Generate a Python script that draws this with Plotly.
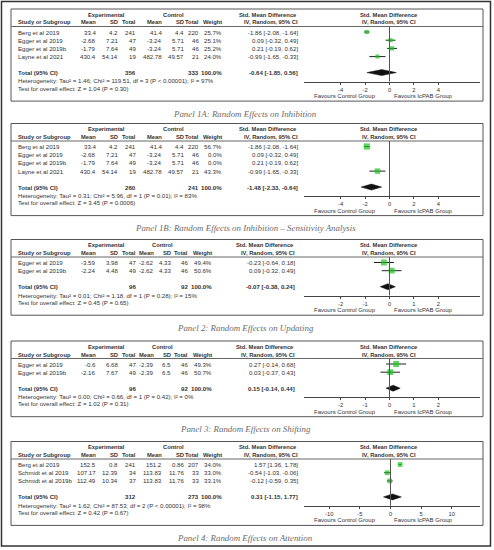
import math
import plotly.graph_objects as go

# ---------------- data ----------------
# Panel 1A: Random effects on inhibition
p1a_study = ["Berg et al 2019", "Egger et al 2019", "Egger et al 2019b", "Layne et al 2021"]
p1a_exp_mean = [33.4, -2.68, -1.79, 430.4]
p1a_exp_sd = [4.2, 7.21, 7.64, 54.14]
p1a_exp_n = [241, 47, 49, 19]
p1a_ctl_mean = [41.4, -3.24, -3.24, 482.78]
p1a_ctl_sd = [4.4, 5.71, 5.71, 49.57]
p1a_ctl_n = [220, 46, 46, 21]
p1a_weight = [25.7, 25.1, 25.2, 24.0]
p1a_smd = [-1.86, 0.09, 0.21, -0.99]
p1a_lo = [-2.08, -0.32, -0.19, -1.65]
p1a_hi = [-1.64, 0.49, 0.62, -0.33]
p1a_total_n = [356, 333]
p1a_total_ci = [-0.64, -1.85, 0.56]
p1a_het = "Heterogeneity: Tau² = 1.46; Chi² = 119.51, df = 3 (P &lt; 0.00001); I² = 97%"
p1a_test = "Test for overall effect: Z = 1.04 (P = 0.30)"
p1a_caption = "Panel 1A: Random Effects on Inhibition"

# Panel 1B: sensitivity analysis
p1b_study = ["Berg et al 2019", "Egger et al 2019", "Egger et al 2019b", "Layne et al 2021"]
p1b_exp_mean = [33.4, -2.68, -1.79, 430.4]
p1b_exp_sd = [4.2, 7.21, 7.64, 54.14]
p1b_exp_n = [241, 47, 49, 19]
p1b_ctl_mean = [41.4, -3.24, -3.24, 482.78]
p1b_ctl_sd = [4.4, 5.71, 5.71, 49.57]
p1b_ctl_n = [220, 46, 46, 21]
p1b_weight = [56.7, 0.0, 0.0, 43.3]
p1b_smd = [-1.86, 0.09, 0.21, -0.99]
p1b_lo = [-2.08, -0.32, -0.19, -1.65]
p1b_hi = [-1.64, 0.49, 0.62, -0.33]
p1b_total_n = [260, 241]
p1b_total_ci = [-1.48, -2.33, -0.64]
p1b_het = "Heterogeneity: Tau² = 0.31; Chi² = 5.96, df = 1 (P = 0.01); I² = 83%"
p1b_test = "Test for overall effect: Z = 3.45 (P = 0.0006)"
p1b_caption = "Panel 1B: Random Effects on Inhibition – Sensitivity Analysis"

# Panel 2: updating
p2_study = ["Egger et al 2019", "Egger et al 2019b"]
p2_exp_mean = [-3.59, -2.24]
p2_exp_sd = [3.98, 4.48]
p2_exp_n = [47, 49]
p2_ctl_mean = [-2.62, -2.62]
p2_ctl_sd = [4.33, 4.33]
p2_ctl_n = [46, 46]
p2_weight = [49.4, 50.6]
p2_smd = [-0.23, 0.09]
p2_lo = [-0.64, -0.32]
p2_hi = [0.18, 0.49]
p2_total_n = [96, 92]
p2_total_ci = [-0.07, -0.38, 0.24]
p2_het = "Heterogeneity: Tau² = 0.01; Chi² = 1.18, df = 1 (P = 0.28); I² = 15%"
p2_test = "Test for overall effect: Z = 0.45 (P = 0.65)"
p2_caption = "Panel 2: Random Effects on Updating"

# Panel 3: shifting
p3_study = ["Egger et al 2019", "Egger et al 2019b"]
p3_exp_mean = [-0.6, -2.16]
p3_exp_sd = [6.68, 7.67]
p3_exp_n = [47, 49]
p3_ctl_mean = [-2.39, -2.39]
p3_ctl_sd = [6.5, 6.5]
p3_ctl_n = [46, 46]
p3_weight = [49.3, 50.7]
p3_smd = [0.27, 0.03]
p3_lo = [-0.14, -0.37]
p3_hi = [0.68, 0.43]
p3_total_n = [96, 92]
p3_total_ci = [0.15, -0.14, 0.44]
p3_het = "Heterogeneity: Tau² = 0.00; Chi² = 0.66, df = 1 (P = 0.42); I² = 0%"
p3_test = "Test for overall effect: Z = 1.02 (P = 0.31)"
p3_caption = "Panel 3: Random Effects on Shifting"

# Panel 4: attention
p4_study = ["Berg et al 2019", "Schmidt et al 2019", "Schmidt et al 2019b"]
p4_exp_mean = [152.5, 107.17, 112.49]
p4_exp_sd = [0.8, 12.39, 10.34]
p4_exp_n = [241, 34, 37]
p4_ctl_mean = [151.2, 113.83, 113.83]
p4_ctl_sd = [0.86, 11.76, 11.76]
p4_ctl_n = [207, 33, 33]
p4_weight = [34.0, 33.0, 33.1]
p4_smd = [1.57, -0.54, -0.12]
p4_lo = [1.36, -1.03, -0.59]
p4_hi = [1.78, -0.06, 0.35]
p4_total_n = [312, 273]
p4_total_ci = [0.31, -1.15, 1.77]
p4_het = "Heterogeneity: Tau² = 1.62; Chi² = 87.53, df = 2 (P &lt; 0.00001); I² = 98%"
p4_test = "Test for overall effect: Z = 0.42 (P = 0.67)"
p4_caption = "Panel 4: Random Effects on Attention"

ticks_p1 = [-4, -2, 0, 2, 4]
ticks_p2 = [-2, -1, 0, 1, 2]
ticks_p4 = [-10, -5, 0, 5, 10]

col_headers = ["Mean", "SD", "Total", "Mean", "SD", "Total", "Weight"]
fav_left = "Favours Control Group"
fav_right = "Favours IcPAB Group"

# ---------------- layout helpers ----------------
FIG_W, FIG_H = 494, 550
FONT = "Liberation Sans, Arial, sans-serif"
SERIF = "Liberation Serif, Times New Roman, serif"
TXT = "#333333"
FS = 6.1      # body text
FSH = 5.8     # bold headers
GREEN = "#17c417"


def px(x):
    return x / FIG_W


def py(y):
    return 1 - y / FIG_H


ann = []
shapes = []


def text(x, y, s, anchor="left", bold=False, size=FS, color=TXT, family=FONT):
    ann.append(dict(x=px(x), y=py(y), xref="paper", yref="paper",
                    text=f"<b>{s}</b>" if bold else s, showarrow=False,
                    xanchor=anchor, yanchor="middle", borderpad=0,
                    font=dict(family=family, size=size, color=color)))


COLS_WIDE = [96.5, 119, 137, 163, 184.5, 200, 223, 299]
COLS_NARROW = [96.5, 119, 137, 154.5, 172, 189, 212.5, 296]


def panel(prefix, **geo):
    g = globals()
    d = {k: g[f"{prefix}_{k}"] for k in
         ["study", "exp_mean", "exp_sd", "exp_n", "ctl_mean", "ctl_sd", "ctl_n",
          "weight", "smd", "lo", "hi", "total_n", "total_ci", "het", "test", "caption"]}
    d.update(geo)
    return d


panels = [
    panel("p1a", H=14.5, cols=COLS_WIDE, ctl_c=173, zero=389.5, scale=12.2, ticks=ticks_p1),
    panel("p1b", H=129, cols=COLS_WIDE, ctl_c=173, zero=389.5, scale=12.2, ticks=ticks_p1),
    panel("p2", H=245, cols=COLS_NARROW, ctl_c=162, zero=389.5, scale=24.4, ticks=ticks_p2),
    panel("p3", H=346.5, cols=COLS_NARROW, ctl_c=162, zero=389.5, scale=24.4, ticks=ticks_p2),
    panel("p4", H=447, cols=COLS_WIDE, ctl_c=173, zero=390.5, scale=6.12, ticks=ticks_p4),
]

fig = go.Figure()
layout_axes = {}
AX_L, AX_R = 304, 480
BOX_L, BOX_R = 11, 483

for i, p in enumerate(panels, start=1):
    H = p["H"]
    cols = p["cols"]
    n = len(p["study"])
    rows = [H + 17.5 + 8.2 * j for j in range(n)]
    total_y = rows[-1] + 16
    axis_y = total_y + 9
    sep_y = H + 12
    top = H - 5.5
    bottom = total_y + 28.5
    cap_y = bottom + 12.5

    # box and header separator
    shapes.append(dict(type="rect", xref="paper", yref="paper", x0=px(BOX_L), x1=px(BOX_R),
                       y0=py(bottom), y1=py(top), line=dict(color="#555", width=1)))
    shapes.append(dict(type="line", xref="paper", yref="paper", x0=px(BOX_L), x1=px(BOX_R),
                       y0=py(sep_y), y1=py(sep_y), line=dict(color="#666", width=1)))

    # headers
    text(106, H, "Experimental", "center", True, FSH)
    text(p["ctl_c"], H, "Control", "center", True, FSH)
    text(cols[7] - 31, H, "Std. Mean Difference", "center", True, FSH)
    text(17, H + 8, "Study or Subgroup", "left", True, FSH)
    for c, lab in zip(cols[:7], col_headers):
        text(c, H + 8, lab, "right", True, FSH)
    text(cols[7], H + 8, "IV, Random, 95% CI", "right", True, FSH)
    text(389, H, "Std. Mean Difference", "center", True, FSH)
    text(389, H + 8, "IV, Random, 95% CI", "center", True, FSH)

    # study rows
    for j in range(n):
        y = rows[j]
        vals = [f"{p['exp_mean'][j]:g}", f"{p['exp_sd'][j]:g}", f"{p['exp_n'][j]}",
                f"{p['ctl_mean'][j]:g}", f"{p['ctl_sd'][j]:g}", f"{p['ctl_n'][j]}",
                f"{p['weight'][j]:.1f}%",
                f"{p['smd'][j]:.2f} [{p['lo'][j]:.2f}, {p['hi'][j]:.2f}]"]
        text(17, y, p["study"][j])
        for c, v in zip(cols, vals):
            text(c, y, v, "right")

    # total row
    est, tlo, thi = p["total_ci"]
    text(17, total_y, "Total (95% CI)", "left", True)
    text(cols[2], total_y, f"{p['total_n'][0]}", "right", True)
    text(cols[5], total_y, f"{p['total_n'][1]}", "right", True)
    text(cols[6], total_y, "100.0%", "right", True)
    text(cols[7], total_y, f"{est:.2f} [{tlo:.2f}, {thi:.2f}]", "right", True)
    text(17, total_y + 8.3, p["het"])
    text(17, total_y + 15.5, p["test"])

    # favours + caption
    text(377, axis_y + 14.5, fav_left, "right", False, 6.0)
    text(393, axis_y + 14.5, fav_right, "left", False, 6.0)
    text(245, cap_y, f"<i>{p['caption']}</i>", "center", False, 8.9, "#6b6b6b", SERIF)

    # forest plot axes
    xa = f"x{i}" if i > 1 else "x"
    ya = f"y{i}" if i > 1 else "y"
    xr = [(AX_L - p["zero"]) / p["scale"], (AX_R - p["zero"]) / p["scale"]]
    layout_axes["xaxis" + (str(i) if i > 1 else "")] = dict(
        domain=[px(AX_L), px(AX_R)], range=xr, anchor=ya,
        showline=True, linecolor="#444", linewidth=1, mirror=False,
        ticks="outside", ticklen=2, tickwidth=1, tickcolor="#444",
        tickvals=p["ticks"], ticktext=[str(t) for t in p["ticks"]],
        tickfont=dict(family=FONT, size=5.8, color=TXT),
        showgrid=False, zeroline=False, fixedrange=True)
    layout_axes["yaxis" + (str(i) if i > 1 else "")] = dict(
        domain=[py(axis_y), py(sep_y)], range=[axis_y, sep_y], anchor=xa,
        visible=False, showgrid=False, zeroline=False, fixedrange=True)

    # zero line
    shapes.append(dict(type="line", xref=xa, yref=ya, x0=0, x1=0, y0=sep_y, y1=axis_y,
                       line=dict(color="#555", width=1)))

    # CI whiskers (skip zero-weight studies)
    cx, cy, mx, my, ms = [], [], [], [], []
    for j in range(n):
        if p["weight"][j] <= 0:
            continue
        cx += [p["lo"][j], p["hi"][j], None]
        cy += [rows[j], rows[j], None]
        mx.append(p["smd"][j])
        my.append(rows[j])
        ms.append(0.82 * math.sqrt(p["weight"][j]))
    fig.add_trace(go.Scatter(x=cx, y=cy, mode="lines", line=dict(color="#222", width=1),
                             xaxis=xa, yaxis=ya, hoverinfo="skip", showlegend=False))
    fig.add_trace(go.Scatter(x=mx, y=my, mode="markers",
                             marker=dict(symbol="square", size=ms, color=GREEN, line=dict(width=0)),
                             xaxis=xa, yaxis=ya, showlegend=False))
    # diamond
    hh = 3
    fig.add_trace(go.Scatter(x=[tlo, est, thi, est, tlo],
                             y=[total_y, total_y - hh, total_y, total_y + hh, total_y],
                             mode="lines", fill="toself", fillcolor="#111",
                             line=dict(color="#111", width=0.5),
                             xaxis=xa, yaxis=ya, hoverinfo="skip", showlegend=False))

# outer border
shapes.append(dict(type="rect", xref="paper", yref="paper", x0=px(1.5), x1=px(490.5),
                   y0=py(546), y1=py(1.5), line=dict(color="#333", width=1.5)))

fig.update_layout(width=FIG_W, height=FIG_H, margin=dict(l=0, r=0, t=0, b=0),
                  paper_bgcolor="white", plot_bgcolor="rgba(0,0,0,0)",
                  annotations=ann, shapes=shapes, showlegend=False, **layout_axes)

fig.write_html("out.html", config={"displayModeBar": False},
               post_script="document.body.style.margin='0px';document.body.style.overflow='hidden';")
